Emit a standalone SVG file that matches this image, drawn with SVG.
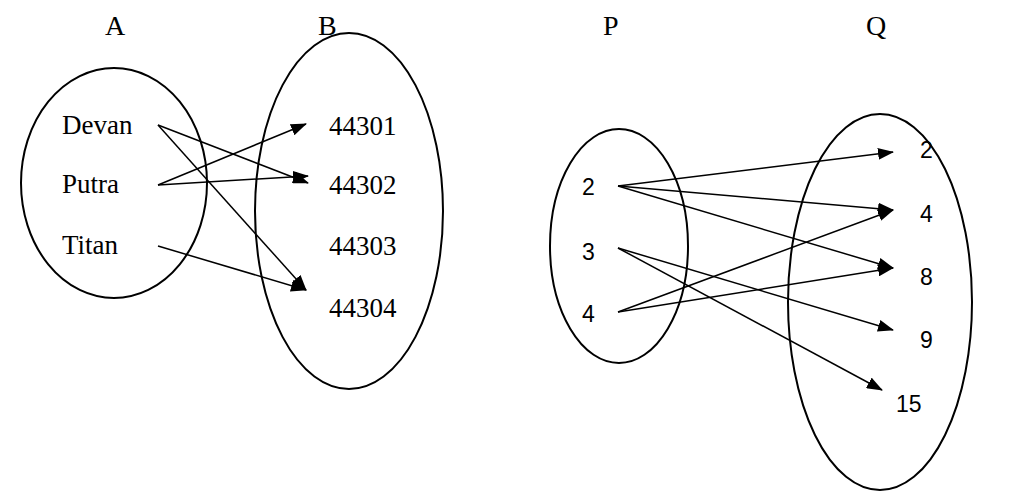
<svg xmlns="http://www.w3.org/2000/svg" width="1009" height="503" viewBox="0 0 1009 503">
<style>
.e{fill:none;stroke:#000;stroke-width:2}
.s{font-family:"Liberation Serif",serif;font-size:27px}
.h{font-family:"Liberation Serif",serif;font-size:28px}
.n{font-family:"Liberation Sans",sans-serif;font-size:23px}
.c line{stroke:#000;stroke-width:1.5;marker-end:url(#a)}
</style>
<defs><marker id="a" markerWidth="16" markerHeight="12" refX="15" refY="6" orient="auto" markerUnits="userSpaceOnUse"><path d="M0,0L16,6L0,12z" fill="#000"/></marker></defs>
<rect width="1009" height="503" fill="#fff"/>
<g id="setA"><ellipse class="e" cx="114" cy="183" rx="93" ry="115"/><text class="h" x="105" y="35">A</text>
<text class="s" x="62" y="134">Devan</text><text class="s" x="62" y="193">Putra</text><text class="s" x="62" y="254">Titan</text></g>
<g id="setB"><ellipse class="e" cx="349" cy="211" rx="94" ry="178"/><text class="h" x="318" y="35">B</text>
<text class="s" x="329" y="135">44301</text><text class="s" x="329" y="194">44302</text><text class="s" x="329" y="255">44303</text><text class="s" x="329" y="317">44304</text></g>
<g id="setP"><ellipse class="e" cx="619" cy="246" rx="69" ry="117"/><text class="h" x="603" y="35">P</text>
<text class="n" x="582" y="195">2</text><text class="n" x="582" y="260">3</text><text class="n" x="582" y="322">4</text></g>
<g id="setQ"><ellipse class="e" cx="880" cy="302" rx="92" ry="188"/><text class="h" x="866" y="35">Q</text>
<text class="n" x="920" y="158">2</text><text class="n" x="920" y="222">4</text><text class="n" x="920" y="285">8</text><text class="n" x="920" y="348">9</text><text class="n" x="896" y="412">15</text></g>
<g class="c" id="connectors">
<line x1="158" y1="125" x2="308" y2="183"/>
<line x1="158" y1="125" x2="306" y2="290"/>
<line x1="158" y1="185" x2="306" y2="124"/>
<line x1="158" y1="185" x2="308" y2="176"/>
<line x1="158" y1="246" x2="306" y2="290"/>
<line x1="618" y1="186" x2="893" y2="152"/>
<line x1="618" y1="186" x2="893" y2="210"/>
<line x1="618" y1="186" x2="893" y2="268"/>
<line x1="618" y1="248" x2="893" y2="330"/>
<line x1="618" y1="248" x2="882" y2="390"/>
<line x1="618" y1="312" x2="893" y2="210"/>
<line x1="618" y1="312" x2="893" y2="268"/>
</g>
</svg>
